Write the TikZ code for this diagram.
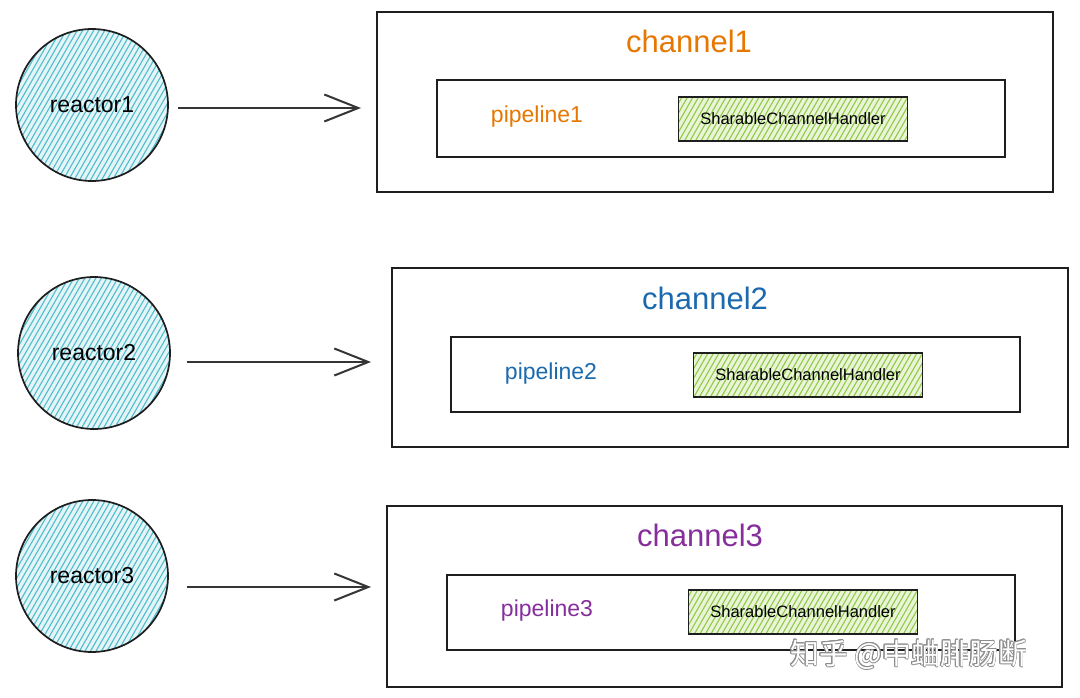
\documentclass[tikz,border=0pt]{standalone}
\usepackage{fontspec}
\setmainfont{Liberation Sans}
\newfontfamily\cjkfont{Noto Sans CJK SC}
\usepackage{contour}
\contourlength{0.6pt}
\usetikzlibrary{arrows.meta,calc}
\definecolor{orangeT}{HTML}{E67700}
\definecolor{blueT}{HTML}{1C6AAE}
\definecolor{purpleT}{HTML}{862E9C}
\definecolor{cyanHatch}{HTML}{52BCCB}
\definecolor{cyanBg}{HTML}{E4F5F8}
\definecolor{greenHatch}{HTML}{92C94A}
\definecolor{greenBg}{HTML}{EAF5D8}
\definecolor{ink}{HTML}{1E1E1E}
\tikzset{
  hatchfill/.style={path picture={\foreach \k in {-45,...,45}{\draw[#1,line width=1.1pt] ([xshift=\k*5.5pt-60pt,yshift=-110pt]path picture bounding box.center) -- ++(126pt,220pt);}}},
  reactor/.style={circle,draw=ink,line width=1.7pt,minimum size=152pt,inner sep=0pt,fill=cyanBg,hatchfill=cyanHatch,font=\fontsize{23}{26}\selectfont},
  chbox/.style={rectangle,draw=ink,line width=1.6pt,inner sep=0pt},
  pipebox/.style={rectangle,draw=ink,line width=1.6pt,inner sep=0pt},
  handler/.style={rectangle,draw=ink,line width=1.8pt,inner sep=0pt,minimum width=229pt,minimum height=44pt,fill=greenBg,hatchfill=greenHatch,font=\fontsize{16.5}{19}\selectfont},
  chtitle/.style={font=\fontsize{31}{36}\selectfont,inner sep=0pt},
  pipetitle/.style={font=\fontsize{23}{26}\selectfont,inner sep=0pt},
  arr/.style={draw=ink!90,line width=2pt,-{Straight Barb[length=34pt,width=27pt,line width=2pt]}},
}
\begin{document}
\begin{tikzpicture}[x=1pt,y=-1pt]
\useasboundingbox (0,0) rectangle (1080,698);
\fill[white] (0,0) rectangle (1080,698);

% reactors
\node[reactor] (r1) at (92,105) {reactor1};
\node[reactor] (r2) at (94,353) {reactor2};
\node[reactor] (r3) at (92,576) {reactor3};

% channel 1
\node[chbox,minimum width=676pt,minimum height=180pt] (c1) at (715,102) {};
\node[chtitle,text=orangeT] (t1) at (689,41) {channel1};
\node[pipebox,minimum width=568pt,minimum height=77pt] (p1) at (721,118.5) {};
\node[pipetitle,text=orangeT] (l1) at (537,117) {pipeline1};
\node[handler] (h1) at (793,119) {SharableChannelHandler};

% channel 2
\node[chbox,minimum width=676pt,minimum height=179pt] (c2) at (730,357.5) {};
\node[chtitle,text=blueT] (t2) at (705,298) {channel2};
\node[pipebox,minimum width=569pt,minimum height=75pt] (p2) at (735.5,374.5) {};
\node[pipetitle,text=blueT] (l2) at (551,374) {pipeline2};
\node[handler] (h2) at (808,375) {SharableChannelHandler};

% channel 3
\node[chbox,minimum width=675pt,minimum height=181pt] (c3) at (724.5,596.5) {};
\node[chtitle,text=purpleT] (t3) at (700,535) {channel3};
\node[pipebox,minimum width=568pt,minimum height=75pt] (p3) at (731,612.5) {};
\node[pipetitle,text=purpleT] (l3) at (547,611) {pipeline3};
\node[handler] (h3) at (803,612) {SharableChannelHandler};

% arrows
\coordinate (a1e) at (361,108);
\coordinate (a2e) at (371,362);
\coordinate (a3e) at (371,587);
\draw[arr] ([xshift=9pt]r1.east |- a1e) -- (a1e);
\draw[arr] ([xshift=16pt]r2.east |- a2e) -- (a2e);
\draw[arr] ([xshift=18pt]r3.east |- a3e) -- (a3e);

% watermark
\node[anchor=west,inner sep=0pt,font=\cjkfont\fontsize{29}{32}\selectfont] (wm) at (790,655) {\contour{black!45}{\textcolor{white}{知乎 @中蛐腓肠断}}};
\end{tikzpicture}
\end{document}
